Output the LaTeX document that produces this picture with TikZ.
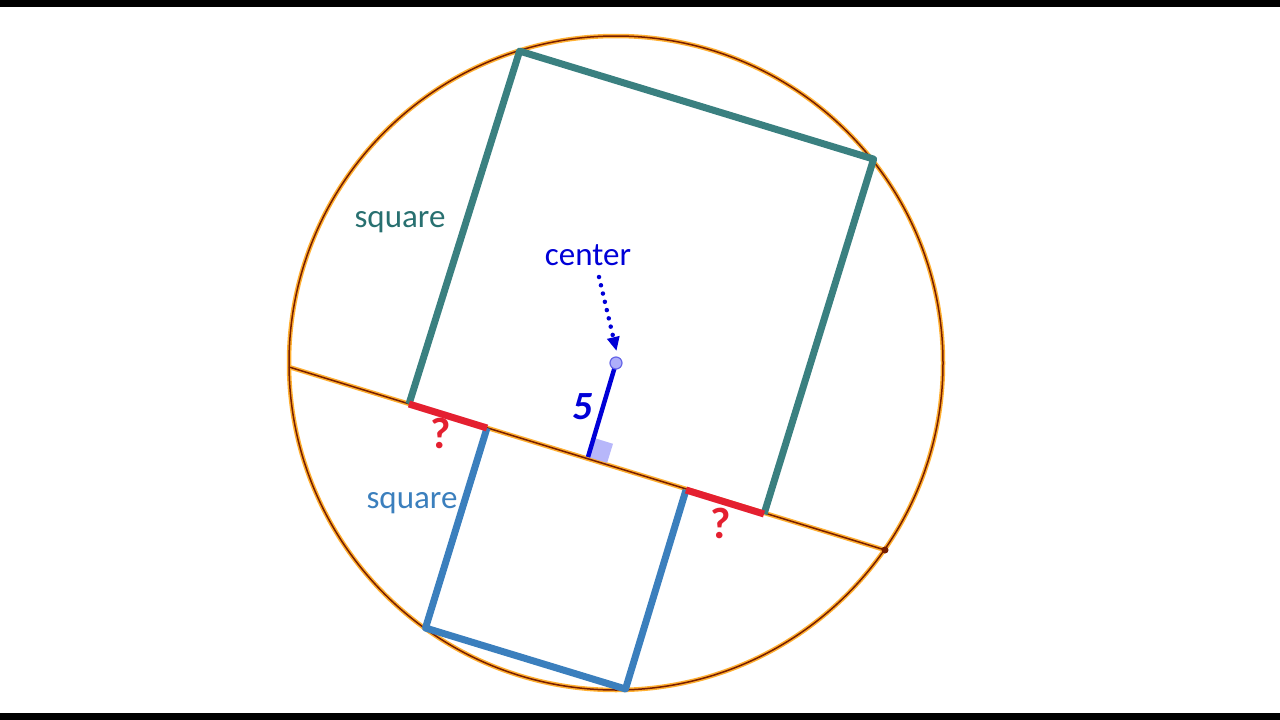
\documentclass[tikz,border=0pt]{standalone}
\usepackage{fontspec}
\setmainfont{Carlito}
\usetikzlibrary{arrows.meta}
\definecolor{sqteal}{RGB}{58,128,128}
\definecolor{txteal}{RGB}{40,112,112}
\definecolor{sqblue}{RGB}{59,127,189}
\definecolor{segred}{RGB}{228,32,48}
\definecolor{qblue}{RGB}{0,0,215}
\definecolor{halo}{RGB}{255,176,50}
\definecolor{core}{RGB}{120,30,0}
\definecolor{marker}{RGB}{175,175,250}
\tikzset{
  halopath/.style={draw=halo, line width=4.5pt},
  corepath/.style={draw=core, line width=1.5pt},
  bigsq/.style={draw=sqteal, line width=7pt, line join=round},
  smallsq/.style={draw=sqblue, line width=7pt, line join=round},
  redseg/.style={draw=segred, line width=7pt},
  lbl/.style={inner sep=0pt, anchor=base, font=\fontsize{33}{36}\selectfont},
  qlbl/.style={inner sep=0pt, anchor=base, text=segred, font=\fontsize{44}{48}\selectfont\bfseries},
}
\begin{document}
\begin{tikzpicture}[x=1pt,y=-1pt]
\useasboundingbox (0,0) rectangle (1280,720);
\fill[black] (0,0) rectangle (1280,7);
\fill[black] (0,713) rectangle (1280,720);
% circle and chord
\coordinate (O) at (616,363);
\coordinate (P) at (289,367);
\coordinate (Q) at (885,550);
\path[halopath] (O) circle (327pt);
\path[halopath] (P) -- (Q);
\path[corepath] (O) circle (327pt);
\path[corepath] (P) -- (Q);
\fill[core] (Q) circle (3.5pt);
% big square
\coordinate (A) at (409,404);
\coordinate (B) at (764,514);
\coordinate (C) at (873.6,159.1);
\coordinate (D) at (519.6,51.1);
\path[bigsq] (A) -- (D) -- (C) -- (B);
% small square
\coordinate (E) at (487,428);
\coordinate (F) at (686,490);
\coordinate (G) at (625.5,689);
\coordinate (H) at (425.5,628);
\path[smallsq] (E) -- (H) -- (G) -- (F);
% red segments
\path[redseg] (A) -- (E);
\path[redseg] (F) -- (B);
% right angle marker
\coordinate (M) at (588,457);
\fill[marker, opacity=0.9] (M) -- ++(19.1,5.9) -- ++(5.9,-19.1) -- ++(-19.1,-5.9) -- cycle;
% radius line
\draw[qblue, line width=4.5pt] (M) -- (O);
\filldraw[draw=qblue!60, fill=marker, line width=1.2pt] (O) circle (6pt);
% dotted arrow
\coordinate (T1) at (599,277);
\coordinate (T2) at (616.5,351);
\draw[qblue, line width=4.5pt, line cap=round, dash pattern=on 0pt off 8.5pt,
  -{Triangle[length=14pt,width=12pt,line cap=butt]}] (T1) -- (T2);
% labels
\node[lbl, text=txteal] (l1) at (400,227) {square};
\node[lbl, text=sqblue] (l2) at (412,508) {square};
\node[lbl, text=qblue] (l3) at (588,265) {center};
\node[inner sep=0pt, anchor=base, text=qblue, font=\fontsize{40}{44}\selectfont\bfseries\itshape] (l4) at (583,419) {5};
\node[qlbl] (q1) at (441,448) {?};
\node[qlbl] (q2) at (721,538) {?};
\end{tikzpicture}
\end{document}
